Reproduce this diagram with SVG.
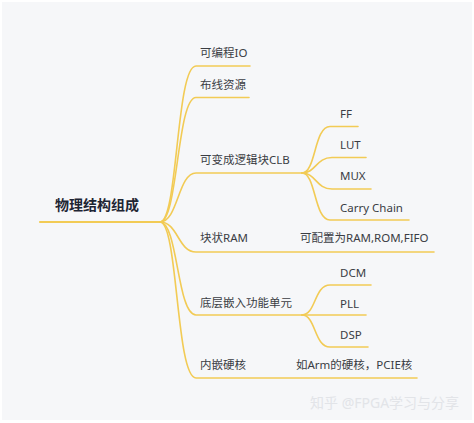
<svg xmlns="http://www.w3.org/2000/svg" width="474" height="423" viewBox="0 0 474 423">
<style>
.ln{fill:none;stroke:#f2cb55;stroke-width:1.6;stroke-linecap:round}
.rt{fill:none;stroke:#f2cb55;stroke-width:2.2;stroke-linecap:round}
.t{font-family:"Noto Sans","Noto Sans CJK SC",sans-serif;font-size:11.5px;fill:#3a3d44}
.r{font-family:"Noto Sans","Noto Sans CJK SC",sans-serif;font-size:14px;font-weight:bold;fill:#1e2533}
.w{font-family:"Noto Sans","Noto Sans CJK SC",sans-serif;font-size:14px;fill:#e2e4e8}
</style>
<rect x="0" y="0" width="474" height="423" fill="#ffffff"/>
<rect x="2" y="2" width="470" height="418" fill="#f6f7f9"/>
<g id="connectors">
<path class="rt" d="M40,222 L160,222"/>
<path class="ln" d="M160,222 C178,222 176,66 196,66 L250,66"/>
<path class="ln" d="M160,222 C178,222 177,97.5 196,97.5 L249,97.5"/>
<path class="ln" d="M160,222 C178,222 178,173 196,173 L302,173"/>
<path class="ln" d="M160,222 C178,222 178,252 196,252 L434,252"/>
<path class="ln" d="M160,222 C178,222 177,315 196,315 L302,315"/>
<path class="ln" d="M160,222 C178,222 176,378 196,378 L417,378"/>
<path class="ln" d="M302,173 C316,173 314,126.5 330,126.5 L358,126.5"/>
<path class="ln" d="M302,173 C316,173 316,157.5 332,157.5 L366,157.5"/>
<path class="ln" d="M302,173 C316,173 316,189 332,189 L371,189"/>
<path class="ln" d="M302,173 C316,173 314,220 330,220 L409,220"/>
<path class="ln" d="M302,315 C316,315 314,285 330,285 L371,285"/>
<path class="ln" d="M302,315 L366,315"/>
<path class="ln" d="M302,315 C316,315 314,347 330,347 L368,347"/>
</g>
<g id="root"><text class="r" x="55" y="210">物理结构组成</text></g>
<g id="n-io"><text class="t" x="200" y="57">可编程IO</text></g>
<g id="n-route"><text class="t" x="200" y="89">布线资源</text></g>
<g id="n-clb"><text class="t" x="200" y="164">可变成逻辑块CLB</text></g>
<g id="n-ff"><text class="t" x="340" y="118">FF</text></g>
<g id="n-lut"><text class="t" x="340" y="149">LUT</text></g>
<g id="n-mux"><text class="t" x="340" y="180">MUX</text></g>
<g id="n-carry"><text class="t" x="340" y="211.5">Carry Chain</text></g>
<g id="n-ram"><text class="t" x="200" y="242">块状RAM</text></g>
<g id="n-ramcfg"><text class="t" x="300" y="242">可配置为RAM,ROM,FIFO</text></g>
<g id="n-embed"><text class="t" x="200" y="306.5">底层嵌入功能单元</text></g>
<g id="n-dcm"><text class="t" x="340" y="276.5">DCM</text></g>
<g id="n-pll"><text class="t" x="340" y="307.5">PLL</text></g>
<g id="n-dsp"><text class="t" x="340" y="339">DSP</text></g>
<g id="n-hard"><text class="t" x="200" y="369">内嵌硬核</text></g>
<g id="n-hardnote"><text class="t" x="296" y="369">如Arm的硬核，PCIE核</text></g>
<text class="w" x="310" y="408">知乎 @FPGA学习与分享</text>
</svg>
